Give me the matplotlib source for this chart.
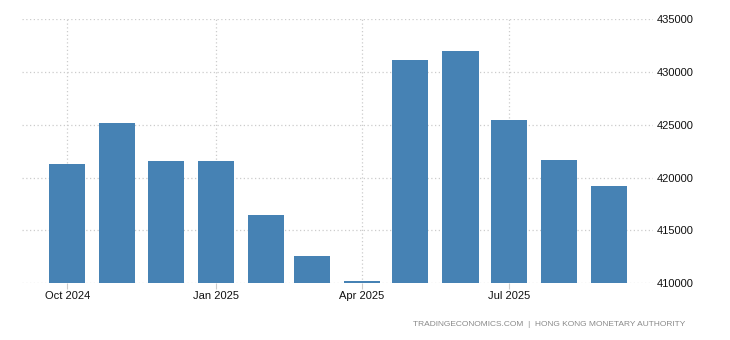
import matplotlib
matplotlib.use("Agg")
import matplotlib.pyplot as plt
import matplotlib.dates as mdates
import datetime as dt

# Monthly values
months = ["2024-10", "2024-11", "2024-12", "2025-01", "2025-02", "2025-03",
          "2025-04", "2025-05", "2025-06", "2025-07", "2025-08", "2025-09"]
values = [421280, 425170, 421560, 421560, 416450, 412560,
          410190, 431140, 431990, 425450, 421660, 419190]
tick_months = ["2024-10", "2025-01", "2025-04", "2025-07"]
tick_labels = ["Oct 2024", "Jan 2025", "Apr 2025", "Jul 2025"]
y_ticks = [410000, 415000, 420000, 425000, 430000, 435000]
source_text = "TRADINGECONOMICS.COM  |  HONG KONG MONETARY AUTHORITY"

plt.rcParams["font.family"] = ["Liberation Sans", "DejaVu Sans"]

def to_date(s):
    y, m = s.split("-")
    return dt.datetime(int(y), int(m), 1)

x = mdates.date2num([to_date(m) for m in months])
xt = mdates.date2num([to_date(m) for m in tick_months])

fig = plt.figure(figsize=(7.3, 3.4), dpi=100)
ax = fig.add_axes([22 / 730, 1 - 283 / 340, (653 - 22) / 730, (283 - 19.3) / 340])

ax.bar(x, values, width=22.3, color="#4682B4", zorder=2, bottom=0)

ax.set_ylim(410000, 435000)
ax.set_xlim(mdates.date2num(dt.datetime(2024, 9, 3)),
            mdates.date2num(dt.datetime(2025, 9, 28)))

ax.set_yticks(y_ticks)
ax.set_yticklabels([str(v) for v in y_ticks])
ax.yaxis.tick_right()
ax.tick_params(axis="y", length=0, pad=3, labelsize=8, labelcolor="#111111")

ax.set_xticks(xt)
ax.set_xticklabels(tick_labels)
ax.tick_params(axis="x", length=4, width=0.8, color="#cccccc", pad=2,
               labelsize=8, labelcolor="#111111")

ax.grid(True, color="#cccccc", linestyle=(0, (1, 2)), linewidth=0.9, zorder=0)
ax.set_axisbelow(True)
for s in ax.spines.values():
    s.set_visible(False)

fig.text(685 / 730, 1 - 325 / 340, source_text, ha="right", va="center",
         fontsize=6, color="#8a8a8a")

fig.savefig("out.png", dpi=100)
